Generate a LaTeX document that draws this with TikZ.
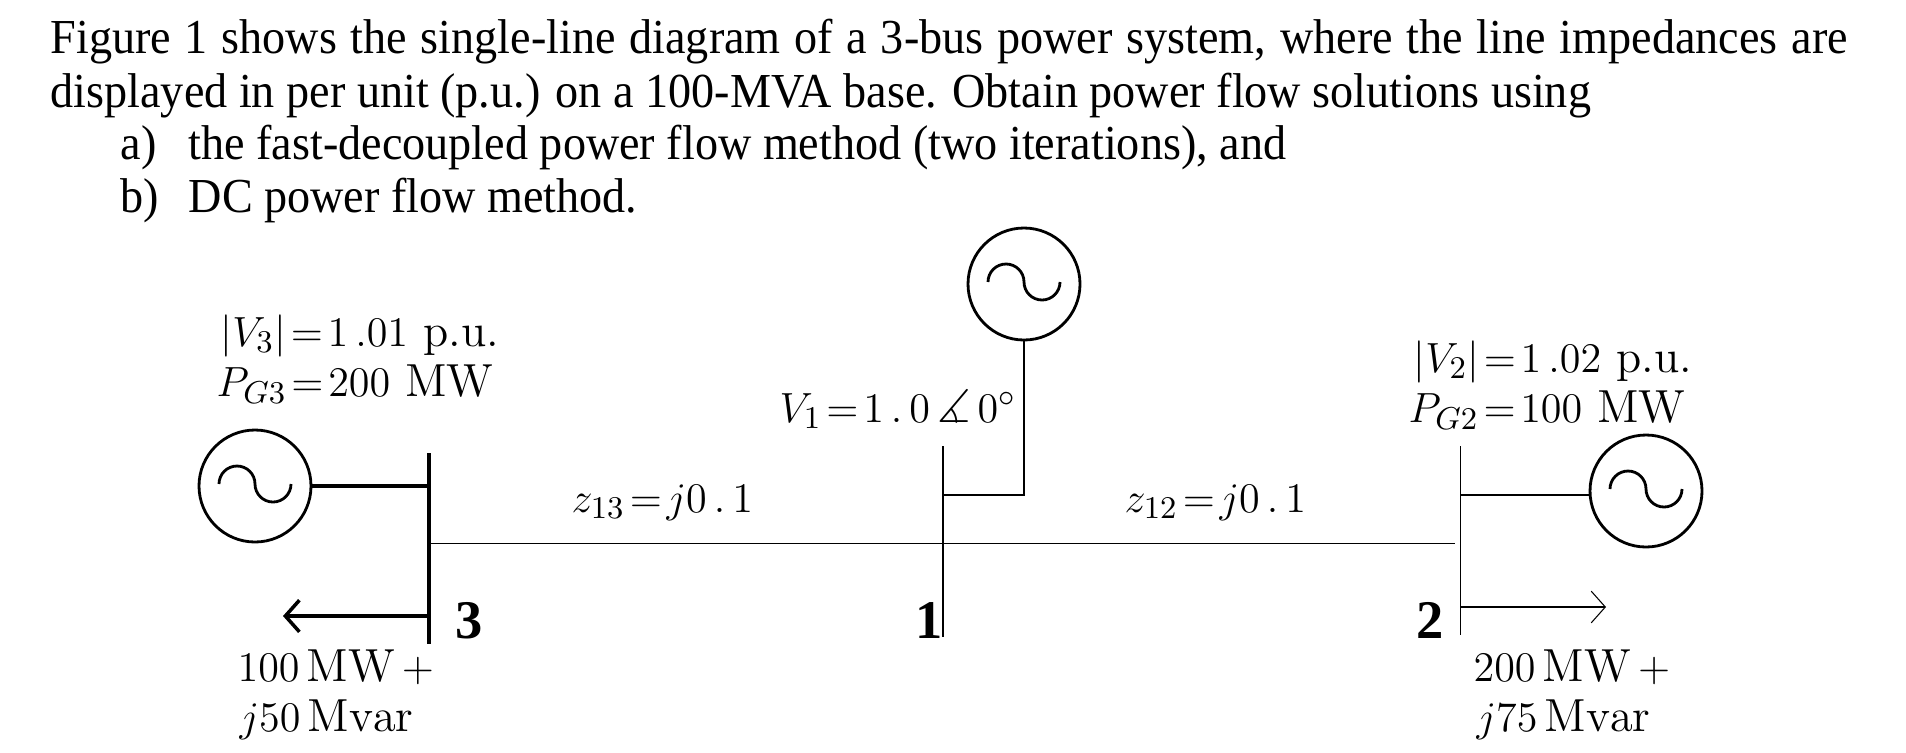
\documentclass[tikz,border=0pt]{standalone}
\usepackage{fontspec}
\usepackage{amssymb}
\newfontfamily\bodyfont[FakeStretch=0.945]{Liberation Serif}
\newfontfamily\nofont{Liberation Serif}
\usetikzlibrary{arrows.meta}
\tikzset{
  para/.style={anchor=base west,inner sep=0pt,font=\fontsize{13.9}{15}\bodyfont},
  lbl/.style={anchor=base west,inner sep=0pt,font=\fontsize{13.2}{15}\selectfont},
  busno/.style={anchor=base west,inner sep=0pt,font=\fontsize{15.5}{17}\nofont\bfseries},
  gen/.style={circle,draw,line width=0.8pt,minimum size=1.12cm,inner sep=0pt,
    path picture={\draw[line width=0.8pt,shift={(path picture bounding box.center)}]
      (-0.36,0.02) arc (180:0:0.18) arc (180:360:0.18);}},
  hairline/.style={line width=0.3pt},
  thinline/.style={line width=0.4pt},
  mainline/.style={line width=0.5pt},
  thickline/.style={line width=1pt},
  load/.style={-{Straight Barb[length=4pt,width=9pt]}}
}
\begin{document}
\begin{tikzpicture}
\useasboundingbox (0,0) rectangle (19.06,7.52);

\draw (0.50,6.985)node[para](l1){\makebox[17.97cm][s]{Figure 1 shows the single-line diagram of a 3-bus power system, where the line impedances are}};
\draw (0.50,6.45)node[para](l2){displayed in per unit (p.u.) on a 100-MVA base. Obtain power flow solutions using};
\draw (1.20,5.925)node[para](a){a)};
\draw (1.88,5.925)node[para](a1){the fast-decoupled power flow method (two iterations), and};
\draw (1.20,5.395)node[para](b){b)};
\draw (1.88,5.395)node[para](b1){DC power flow method.};

\coordinate (bus3t) at (4.29,2.99);
\coordinate (bus3b) at (4.29,1.08);
\coordinate (bus1t) at (9.43,3.06);
\coordinate (bus1b) at (9.43,1.15);
\coordinate (bus2t) at (14.60,3.06);
\coordinate (bus2b) at (14.60,1.17);
\coordinate (m3) at (4.29,2.085);
\coordinate (m2) at (14.55,2.085);
\coordinate (j1) at (9.43,2.57);
\coordinate (j2) at (14.60,2.57);
\coordinate (l3) at (4.29,1.36);
\coordinate (e3) at (2.83,1.36);
\coordinate (l2) at (14.60,1.45);
\coordinate (e2) at (16.06,1.45);

\draw (2.55,2.66)node[gen](g3){};
\draw (10.24,4.68)node[gen](g1){};
\draw (16.46,2.61)node[gen](g2){};

\draw[thickline] (bus3t)--(bus3b);
\draw[hairline] (bus1t)--(bus1b);
\draw[hairline] (bus2t)--(bus2b);

\draw[mainline] (m3)--(m2);
\draw[thickline] (g3)--(g3-|bus3t);
\draw[thinline] (g1.south)|-(j1);
\draw[hairline] (j2)--(g2.west|-j2);

\draw[thickline,load] (l3)--(e3);
\draw[hairline,load] (l2)--(e2);

\draw (2.20,4.06)node[lbl](v3){$|V_3|\!=\!1\,.01$\ p.u.};
\draw (2.16,3.56)node[lbl](p3){$P_{G3}\!=\!200$\ MW};
\draw (14.13,3.80)node[lbl](v2){$|V_2|\!=\!1\,.02$\ p.u.};
\draw (14.08,3.30)node[lbl](p2){$P_{G2}\!=\!100$\ MW};
\draw (7.79,3.30)node[lbl](v1){$V_1\!=\!1\,.\,0\,\measuredangle\,0^\circ$};
\draw (5.71,2.40)node[lbl](z13){$z_{13}\!=\!j0\,.\,1$};
\draw (11.24,2.40)node[lbl](z12){$z_{12}\!=\!j0\,.\,1$};

\draw (2.37,0.71)node[lbl](d3){$100\,\mathrm{MW}\,+$};
\draw (2.39,0.21)node[lbl](q3){$j50\,\mathrm{Mvar}$};
\draw (14.73,0.71)node[lbl](d2){$200\,\mathrm{MW}\,+$};
\draw (14.76,0.21)node[lbl](q2){$j75\,\mathrm{Mvar}$};

\draw (4.55,1.14)node[busno](n3){3};
\draw (9.15,1.14)node[busno](n1){1};
\draw (14.16,1.14)node[busno](n2){2};
\end{tikzpicture}
\end{document}
